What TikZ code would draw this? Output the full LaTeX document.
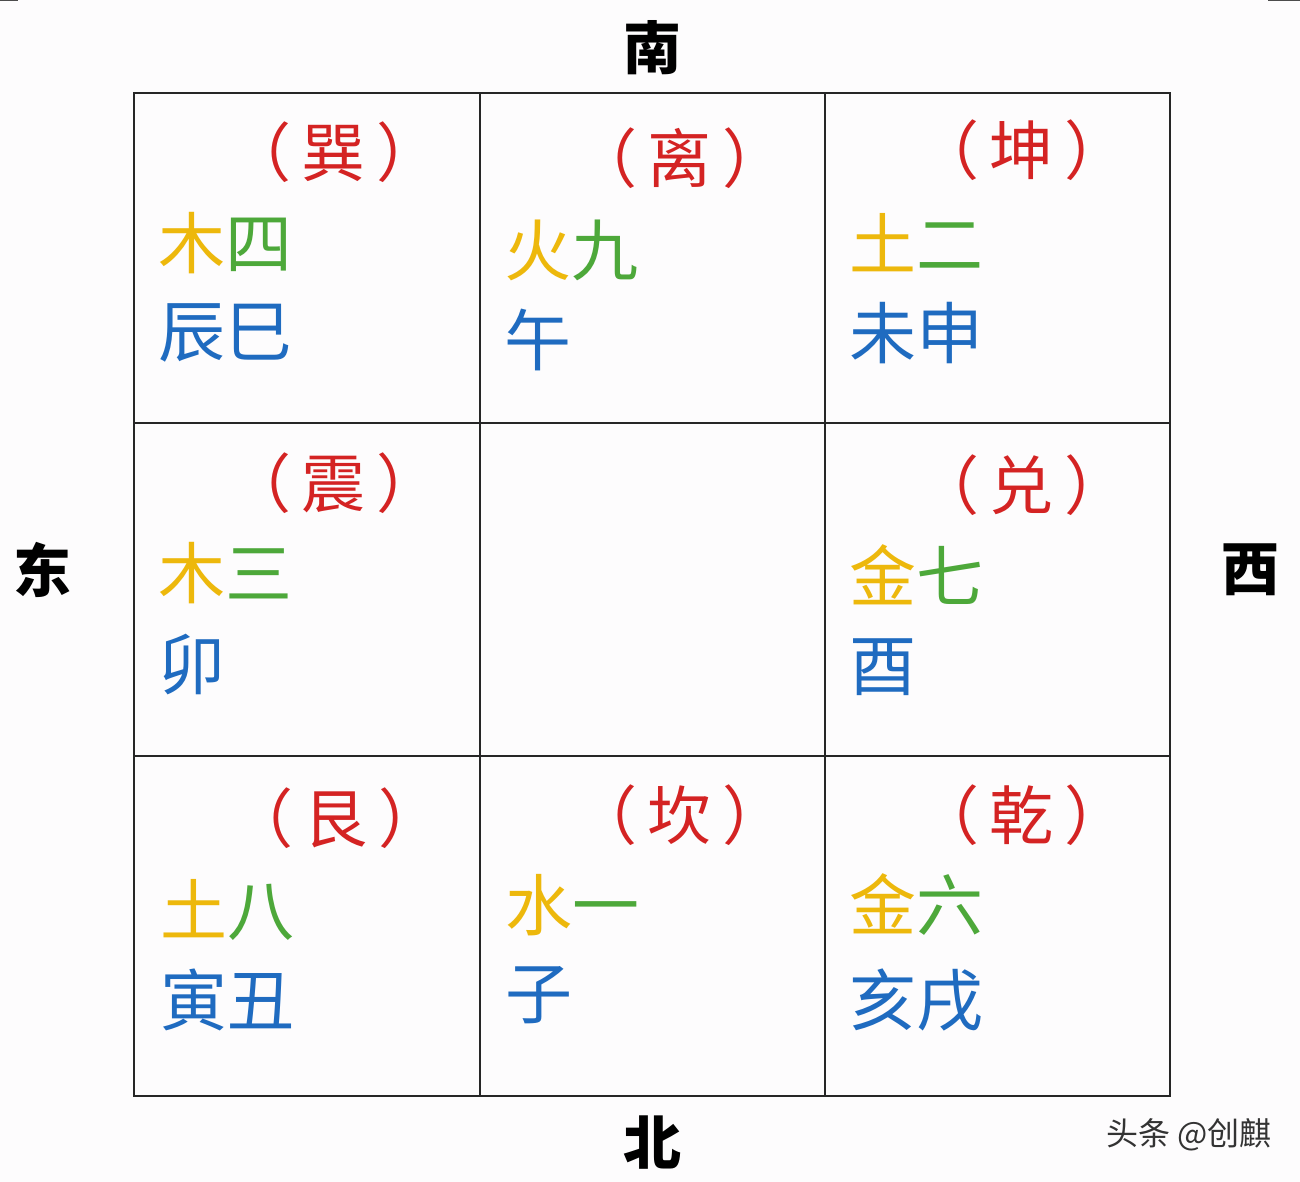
\documentclass[tikz,border=0pt]{standalone}
\usepackage{fontspec}
\setmainfont{Noto Sans CJK SC}
\newfontfamily\cjk{Noto Sans CJK SC}
\definecolor{gred}{HTML}{D42323}
\definecolor{gyel}{HTML}{EDB80C}
\definecolor{ggrn}{HTML}{4DA83A}
\definecolor{gblu}{HTML}{1F6BC0}
\definecolor{bg}{HTML}{FDFCFD}
\newcommand{\gualab}[1]{（\hspace{11pt}#1\hspace{11pt}）}
\begin{document}
\begin{tikzpicture}[x=1pt,y=-1pt,
  gridline/.style={line width=2pt,black!85},
  dirtext/.style={font=\cjk\fontsize{58}{58}\selectfont\bfseries,text=black,inner sep=0},
  gua/.style={font=\cjk\fontsize{64}{64}\selectfont,text=gred,inner sep=0},
  rowtext/.style={font=\cjk\fontsize{67}{67}\selectfont,anchor=west,inner sep=0},
  wmtext/.style={font=\cjk\fontsize{32}{32}\selectfont,text=black!80,inner sep=0}]
\useasboundingbox (0,0) rectangle (1300,1182);
\fill[bg] (0,0) rectangle (1300,1182);
\draw[black!70,line width=1.5pt] (0,0.7) -- (18,0.7);
\draw[black!70,line width=1.5pt] (1268,0.7) -- (1300,0.7);
% grid
\draw[gridline] (134,93) rectangle (1170,1096);
\draw[gridline] (480,93) -- (480,1096);
\draw[gridline] (825,93) -- (825,1096);
\draw[gridline] (134,423) -- (1170,423);
\draw[gridline] (134,756) -- (1170,756);
% directions
\node[dirtext] (south) at (652,48) {南};
\node[dirtext] (north) at (652,1143) {北};
\node[dirtext] (east) at (42,570) {东};
\node[dirtext] (west) at (1250,570) {西};
% row 1
\node[gua] (xun) at (334,152) {\gualab{巽}};
\node[rowtext] (xun1) at (158,243) {\textcolor{gyel}{木}\textcolor{ggrn}{四}};
\node[rowtext] (xun2) at (158,333) {\textcolor{gblu}{辰巳}};
\node[gua] (li) at (680,158) {\gualab{离}};
\node[rowtext] (li1) at (504,250) {\textcolor{gyel}{火}\textcolor{ggrn}{九}};
\node[rowtext] (li2) at (504,340) {\textcolor{gblu}{午}};
\node[gua] (kun) at (1022,150) {\gualab{坤}};
\node[rowtext] (kun1) at (849,243) {\textcolor{gyel}{土}\textcolor{ggrn}{二}};
\node[rowtext] (kun2) at (849,333) {\textcolor{gblu}{未申}};
% row 2
\node[gua] (zhen) at (334,483) {\gualab{震}};
\node[rowtext] (zhen1) at (158,573) {\textcolor{gyel}{木}\textcolor{ggrn}{三}};
\node[rowtext] (zhen2) at (158,665) {\textcolor{gblu}{卯}};
\node[gua] (dui) at (1022,485) {\gualab{兑}};
\node[rowtext] (dui1) at (849,575) {\textcolor{gyel}{金}\textcolor{ggrn}{七}};
\node[rowtext] (dui2) at (849,667) {\textcolor{gblu}{酉}};
% row 3
\node[gua] (gen) at (336,818) {\gualab{艮}};
\node[rowtext] (gen1) at (160,910) {\textcolor{gyel}{土}\textcolor{ggrn}{八}};
\node[rowtext] (gen2) at (160,1000) {\textcolor{gblu}{寅丑}};
\node[gua] (kan) at (680,815) {\gualab{坎}};
\node[rowtext] (kan1) at (505,905) {\textcolor{gyel}{水}\textcolor{ggrn}{一}};
\node[rowtext] (kan2) at (505,995) {\textcolor{gblu}{子}};
\node[gua] (qian) at (1022,815) {\gualab{乾}};
\node[rowtext] (qian1) at (849,905) {\textcolor{gyel}{金}\textcolor{ggrn}{六}};
\node[rowtext] (qian2) at (849,1000) {\textcolor{gblu}{亥戌}};
% watermark
\node[wmtext,anchor=east] (wm) at (1272,1135) {头条 @创麒};
\end{tikzpicture}
\end{document}
